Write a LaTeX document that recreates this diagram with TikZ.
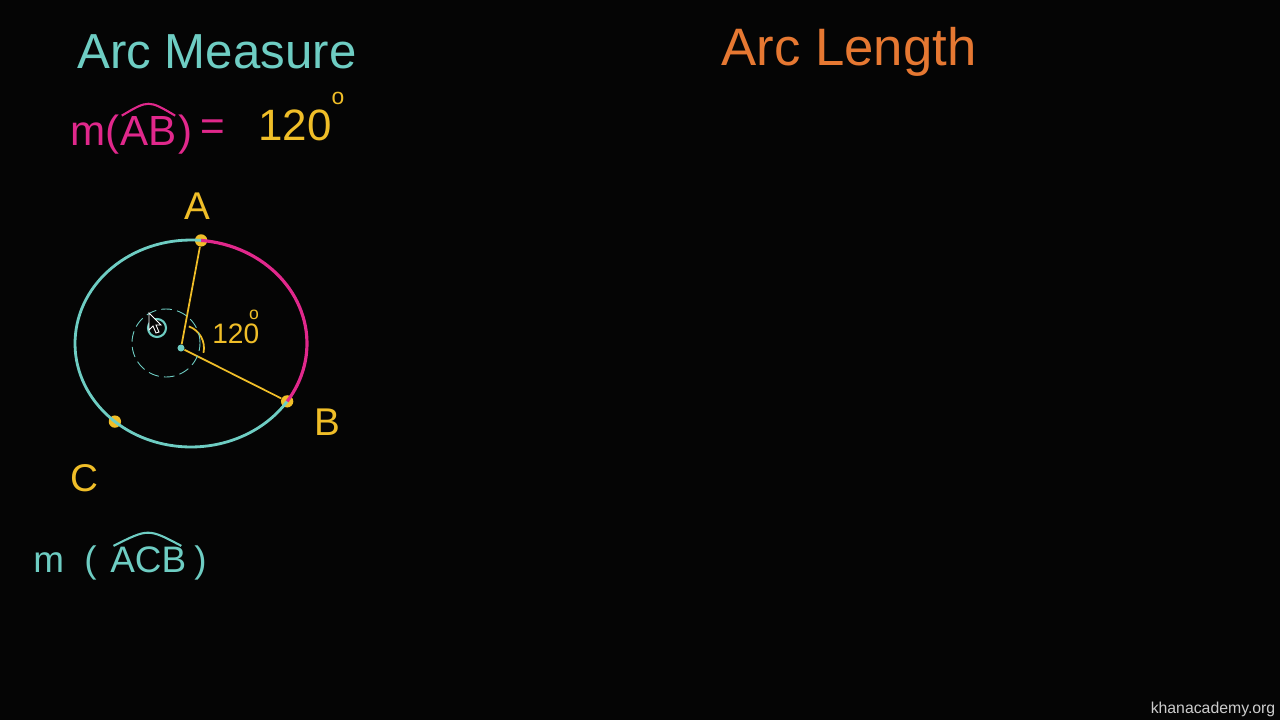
\documentclass[tikz,border=0pt]{standalone}
\usepackage{fontspec}
\setmainfont{Liberation Sans}
\usetikzlibrary{positioning}
\definecolor{tealc}{RGB}{110,205,195}
\definecolor{pinkc}{RGB}{225,40,140}
\definecolor{yellowc}{RGB}{240,190,40}
\definecolor{orangec}{RGB}{230,120,50}
\definecolor{bgc}{RGB}{5,5,5}
\begin{document}
\begin{tikzpicture}[x=0.02cm,y=-0.02cm,
    hand/.style={inner sep=0pt, font=\fontsize{28}{30}\selectfont},
    handmd/.style={inner sep=0pt, anchor=base west, font=\fontsize{24}{26}\selectfont},
    handsm/.style={inner sep=0pt, anchor=base west, font=\fontsize{21}{23}\selectfont},
    ptlabel/.style={inner sep=0pt, text=yellowc, font=\fontsize{22}{24}\selectfont},
    degsign/.style={inner sep=0pt, text=yellowc},
    dot/.style={circle, fill=yellowc, inner sep=0pt, minimum size=7pt}]
    \fill[bgc] (0,0) rectangle (1280,720);
    \useasboundingbox (0,0) rectangle (1280,720);
    % headings
    \node (measure) at (217,52) [hand, text=tealc] {Arc Measure};
    \node (length) at (849,52) [hand, text=orangec, font=\fontsize{30}{32}\selectfont] {Arc Length};
    \node (mAB) at (70,145) [handmd, text=pinkc] {m(};
    \node (AB) at (120,145) [handmd, text=pinkc] {AB};
    \node (mABclose) at (178,145) [handmd, text=pinkc] {)};
    \node (eq) at (213,140) [handmd, anchor=base, text=pinkc] {=};
    \node (val) at (258,140) [handmd, font=\fontsize{25}{27}\selectfont, text=yellowc] {120};
    \node (valdeg) at (338,98) [degsign, font=\fontsize{13}{13}\selectfont] {o};
    \draw[pinkc, line width=1.2pt] ([xshift=1pt]AB.north west) .. controls ([yshift=9pt]AB.north) .. ([xshift=-1pt]AB.north east);
    % circle
    \coordinate (O) at (191,343.5);
    \node (ctr) at (181,348) [circle, fill=tealc, inner sep=0pt, minimum size=4pt] {};
    \node (A) at ([shift={(85:2.32cm and 2.07cm)}]O) [dot] {};
    \node (B) at ([shift={(-34:2.32cm and 2.07cm)}]O) [dot] {};
    \node (C) at ([shift={(229:2.32cm and 2.07cm)}]O) [dot] {};
    \draw[yellowc, line width=0.6pt] (O) ellipse [x radius=2.32cm, y radius=2.07cm];
    \draw[tealc, line width=1.6pt] (A.center) arc[start angle=85, end angle=326, x radius=2.32cm, y radius=2.07cm];
    \draw[pinkc, line width=1.8pt] (A.center) arc[start angle=85, end angle=-34, x radius=2.32cm, y radius=2.07cm];
    \draw[yellowc, line width=1pt] (ctr) -- (A);
    \draw[yellowc, line width=1pt] (ctr) -- (B);
    \draw[yellowc, line width=1pt] ([shift={(70:0.46cm)}]ctr.center) arc[start angle=70, end angle=-12, radius=0.46cm];
    \node (ang) at (212,343) [inner sep=0pt, anchor=base west, text=yellowc, font=\fontsize{16}{18}\selectfont] {120};
    \node (angdeg) at (254,315) [degsign, font=\fontsize{10}{10}\selectfont] {o};
    \node (Alab) at (197,206) [ptlabel] {A};
    \node (Blab) at (327,422) [ptlabel] {B};
    \node (Clab) at (84,478) [ptlabel] {C};
    % pointer near the centre
    \draw[tealc, line width=0.5pt, dash pattern=on 6pt off 3pt] (166,343) circle [radius=0.68cm];
    \draw[tealc, line width=1.2pt] (157,328) circle [radius=0.18cm];
    \draw[white, fill=bgc, line width=0.5pt] (149,313) -- (149,330) -- (153,326) -- (156,333) -- (159,332) -- (156,325) -- (161,325) -- cycle;
    % second measure
    \node (mACB) at (33,572) [handsm, text=tealc] {m};
    \node (ACBopen) at (84,572) [handsm, text=tealc] {(};
    \node (ACB) at (110,572) [handsm, text=tealc] {ACB};
    \node (mACBclose) at (194,572) [handsm, text=tealc] {)};
    \draw[tealc, line width=1.2pt] ([xshift=2pt]ACB.north west) .. controls ([yshift=10pt]ACB.north) .. ([xshift=-3pt]ACB.north east);
    \node (site) at (1213,709) [inner sep=0pt, text=black!20, font=\fontsize{9}{10}\selectfont] {khanacademy.org};
\end{tikzpicture}
\end{document}
